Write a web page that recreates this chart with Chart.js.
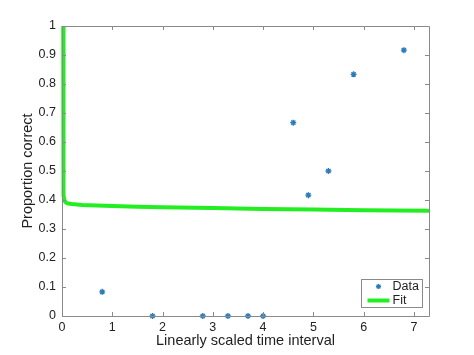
<!DOCTYPE html>
<html>
<head>
<meta charset="utf-8">
<script src="https://cdn.jsdelivr.net/npm/chart.js@4/dist/chart.umd.min.js"></script>
<style>
html,body{margin:0;padding:0;background:#fff;}
#wrap{width:474px;height:355px;position:relative;}
</style>
</head>
<body>
<div id="wrap"><canvas id="c" width="474" height="355"></canvas></div>
<script>
// Observed data (proportion correct vs. linearly scaled time interval)
const dataX = [0.8, 1.8, 2.8, 3.3, 3.7, 4.0, 4.6, 4.9, 5.3, 5.8, 6.8];
const dataY = [0.0833, 0, 0, 0, 0, 0, 0.6667, 0.4167, 0.5, 0.8333, 0.9167];
// Fitted curve
const fitX = [0.025, 0.027, 0.03, 0.035, 0.045, 0.06, 0.08, 0.12, 0.2, 0.4, 0.7, 1.0, 1.5, 2.0, 3.0, 4.0, 5.0, 6.0, 7.3];
const fitY = [1.0, 0.6, 0.45, 0.415, 0.402, 0.395, 0.391, 0.388, 0.386, 0.383, 0.381, 0.379, 0.377, 0.375, 0.372, 0.369, 0.367, 0.365, 0.363];
const xTicks = [0, 1, 2, 3, 4, 5, 6, 7];
const yTicks = [0, 0.1, 0.2, 0.3, 0.4, 0.5, 0.6, 0.7, 0.8, 0.9, 1];
const seriesNames = ['Data', 'Fit'];

const FONT = '"Liberation Sans", Arial, Helvetica, sans-serif';
const AXIS_COL = '#8a8a8a';
const TEXT_COL = '#222222';
const DATA_COL = '#2d7cb8';
const FIT_COL = '#22ee22';

const boxPlugin = {
  id: 'matlabBox',
  afterDatasetsDraw(chart) {
    const {ctx, chartArea: a, scales} = chart;
    const xs = scales.x, ys = scales.y;
    ctx.save();
    ctx.strokeStyle = AXIS_COL;
    ctx.lineWidth = 1;
    ctx.beginPath();
    ctx.rect(Math.round(a.left) + 0.5, Math.round(a.top) + 0.5, Math.round(a.right - a.left), Math.round(a.bottom - a.top));
    ctx.stroke();
    const tl = 4;
    ctx.beginPath();
    xTicks.forEach(v => {
      const px = Math.round(xs.getPixelForValue(v)) + 0.5;
      ctx.moveTo(px, a.bottom); ctx.lineTo(px, a.bottom - tl);
      ctx.moveTo(px, a.top); ctx.lineTo(px, a.top + tl);
    });
    yTicks.forEach(v => {
      const py = Math.round(ys.getPixelForValue(v)) + 0.5;
      ctx.moveTo(a.left, py); ctx.lineTo(a.left + tl, py);
      ctx.moveTo(a.right, py); ctx.lineTo(a.right - tl, py);
    });
    ctx.stroke();

    // legend box
    const w = 61, h = 28;
    const lx = Math.round(a.right - 7 - w) + 0.5;
    const ly = Math.round(a.bottom - 9 - h) + 0.5;
    ctx.fillStyle = '#fff';
    ctx.fillRect(lx, ly, w, h);
    ctx.strokeStyle = AXIS_COL;
    ctx.strokeRect(lx, ly, w, h);
    // Data entry
    const row1 = ly + 7, row2 = ly + 21;
    const mx = lx + 17;
    ctx.strokeStyle = DATA_COL;
    ctx.lineWidth = 1.3;
    const r = 2.6;
    ctx.beginPath();
    for (let k = 0; k < 4; k++) {
      const ang = k * Math.PI / 4;
      ctx.moveTo(mx - r * Math.cos(ang), row1 - r * Math.sin(ang));
      ctx.lineTo(mx + r * Math.cos(ang), row1 + r * Math.sin(ang));
    }
    ctx.stroke();
    ctx.strokeStyle = FIT_COL;
    ctx.lineWidth = 4;
    ctx.beginPath();
    ctx.moveTo(lx + 6, row2); ctx.lineTo(lx + 28, row2);
    ctx.stroke();
    ctx.fillStyle = TEXT_COL;
    ctx.font = '12.5px ' + FONT;
    ctx.textBaseline = 'middle';
    ctx.textAlign = 'left';
    ctx.fillText(seriesNames[0], lx + 31, row1 + 0.5);
    ctx.fillText(seriesNames[1], lx + 31, row2 + 0.5);
    ctx.restore();
  }
};

new Chart(document.getElementById('c'), {
  type: 'scatter',
  data: {
    datasets: [
      {
        label: seriesNames[0],
        data: dataX.map((x, i) => ({x, y: dataY[i]})),
        showLine: false,
        pointStyle: 'star',
        pointRadius: 3,
        pointBorderWidth: 1.4,
        borderColor: DATA_COL,
        backgroundColor: DATA_COL,
        clip: 6,
        order: 1
      },
      {
        label: seriesNames[1],
        data: fitX.map((x, i) => ({x, y: fitY[i]})),
        showLine: true,
        pointRadius: 0,
        borderColor: FIT_COL,
        borderWidth: 4,
        tension: 0,
        borderJoinStyle: 'round',
        clip: {left: 3, top: 0, right: 0, bottom: 0},
        order: 2
      }
    ]
  },
  options: {
    responsive: false,
    animation: false,
    devicePixelRatio: 1,
    layout: {padding: {left: 0, right: 45, top: 26, bottom: 0}},
    plugins: {legend: {display: false}, tooltip: {enabled: false}},
    scales: {
      x: {
        type: 'linear', min: 0, max: 7.3,
        afterFit(s) { s.height = 39; },
        afterBuildTicks(s) { s.ticks = xTicks.map(v => ({value: v})); },
        grid: {display: false, drawTicks: false},
        border: {display: false},
        ticks: {color: TEXT_COL, font: {family: FONT, size: 12.5}, padding: 4, maxRotation: 0, autoSkip: false},
        title: {display: true, text: 'Linearly scaled time interval', color: TEXT_COL, font: {family: FONT, size: 14.5}, padding: {top: 0, bottom: 5}}
      },
      y: {
        type: 'linear', min: 0, max: 1,
        afterFit(s) { s.width = 62; },
        afterBuildTicks(s) { s.ticks = yTicks.map(v => ({value: v})); },
        grid: {display: false, drawTicks: false},
        border: {display: false},
        ticks: {color: TEXT_COL, font: {family: FONT, size: 12.5}, padding: 6, autoSkip: false,
          callback: v => String(Math.round(v * 10) / 10)},
        title: {display: true, text: 'Proportion correct', color: TEXT_COL, font: {family: FONT, size: 14.5}, padding: {top: 19, bottom: 0}}
      }
    }
  },
  plugins: [boxPlugin]
});
</script>
</body>
</html>
